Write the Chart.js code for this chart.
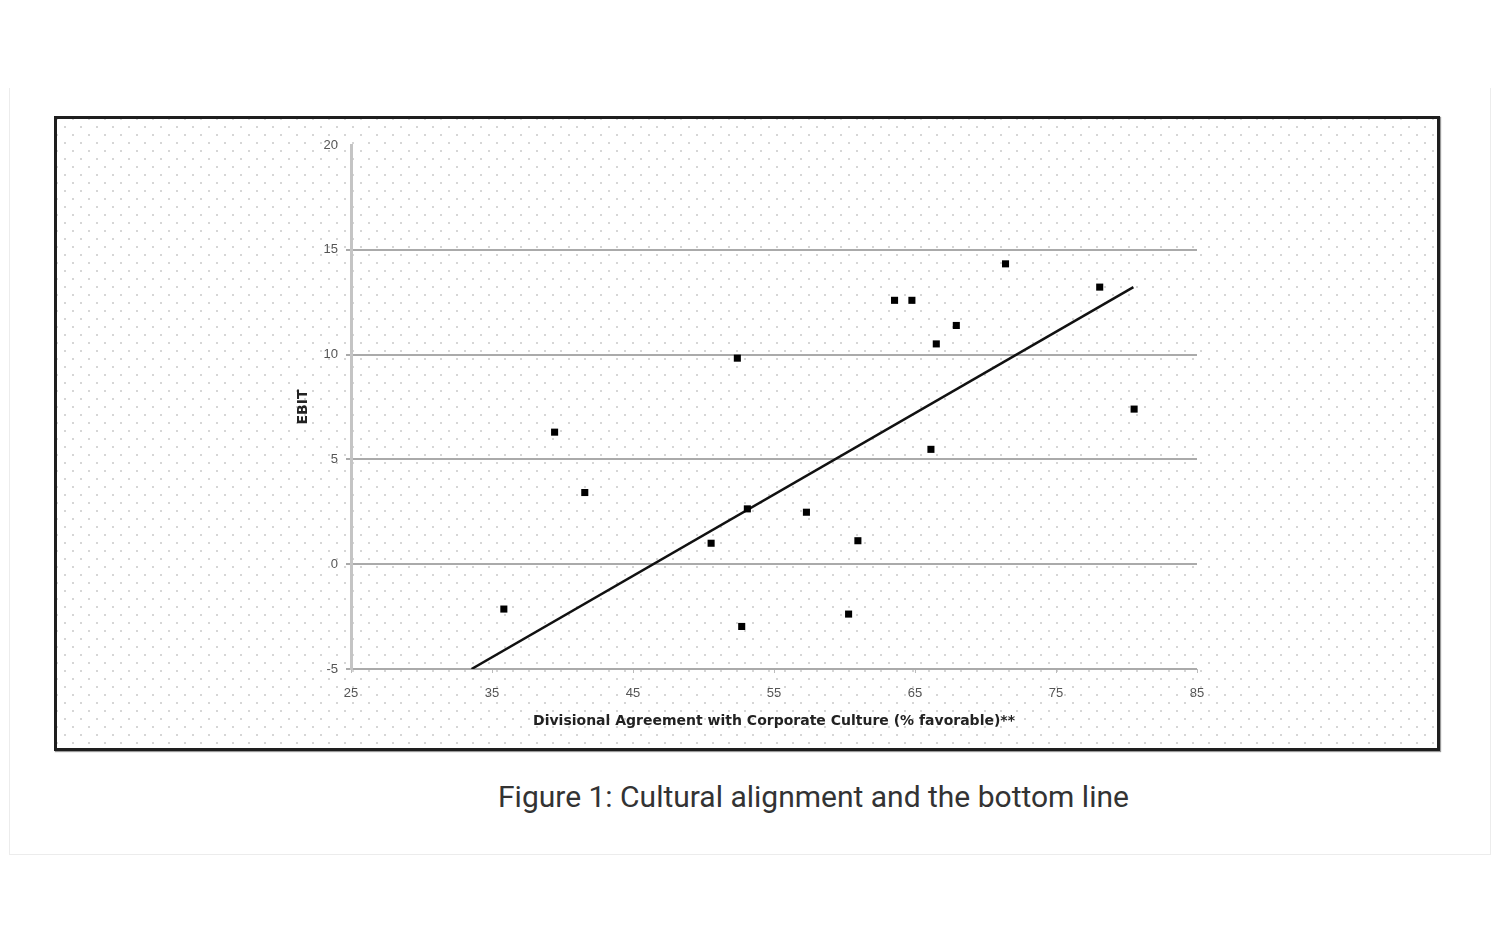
<!DOCTYPE html>
<html>
<head>
<meta charset="utf-8">
<script src="https://cdn.jsdelivr.net/npm/chart.js@4"></script>
<style>
    body { margin: 0; background: #fff; width: 1500px; height: 943px; position: relative; overflow: hidden; }
    #Card { position: absolute; left: 9px; top: 88px; width: 1480px; height: 766px;
            border-left: 1px solid #ececec; border-right: 1px solid #ececec; border-bottom: 1px solid #ececec; }
    #Frame { position: absolute; left: 54px; top: 116px; width: 1380px; height: 629px;
             border: 3px solid #1e1e1e; box-shadow: 1px 1px 1px #999;
             background-color: #fff;
             background-image: radial-gradient(circle, #d6d6d6 0.9px, rgba(255,255,255,0) 1.3px),
                               radial-gradient(circle, #d6d6d6 0.9px, rgba(255,255,255,0) 1.3px);
             background-size: 16px 16px;
             background-position: 0 0, 8px 8px; }
    #CultureDiagram { position: absolute; left: 0; top: 0; width: 1380px; height: 629px; }
    #Caption { position: absolute; left: 498px; top: 779px; font-family: Roboto, sans-serif;
               font-size: 30px; line-height: 36px; color: #333; white-space: nowrap; }
</style>
</head>
<body>
<div id="Card"></div>
<div id="Frame">
    <div id="CultureDiagram"><canvas></canvas></div>
</div>
<div id="Caption">Figure 1: Cultural alignment and the bottom line</div>

<script>
// divisions: agreement with culture (% favorable) and EBIT
var agreement = [35.84, 39.44, 41.58, 50.54, 52.40, 52.71, 53.11, 57.30, 60.29,
                 60.95, 63.55, 64.78, 66.13, 66.51, 67.93, 71.42, 78.10, 80.54];
var ebit = [-2.14, 6.30, 3.42, 1.00, 9.83, -2.97, 2.64, 2.48, -2.38,
            1.12, 12.59, 12.59, 5.48, 10.51, 11.39, 14.33, 13.22, 7.40];

// end points of the fitted line
var trendAgreement = [33.55, 80.49];
var trendEbit = [-5.0, 13.22];

var axXTitle = "Divisional Agreement with Corporate Culture (% favorable)**";
var axYTitle = "EBIT";
var xTicks = [25, 35, 45, 55, 65, 75, 85];
var yTicks = [-5, 0, 5, 10, 15, 20];


function toPoints(xs, ys) {
    var pts = new Array();
    for (var i = 0; i < xs.length; ++i) {
        pts.push({'x': xs[i], 'y': ys[i]});
    }
    return pts;
}


document.addEventListener('DOMContentLoaded', function () {

    var canvas = document.getElementById("CultureDiagram").getElementsByTagName("canvas")[0];
    var tickFont = {family: "'Liberation Sans', Arial, sans-serif", size: 13};
    var titleFont = {family: "'DejaVu Sans', sans-serif", size: 14, weight: 'bold'};

    new Chart(canvas, {
        data: {
            datasets: [
                {
                    type: "scatter",
                    label: "Divisions",
                    data: toPoints(agreement, ebit),
                    pointStyle: 'rect',
                    radius: 5,
                    backgroundColor: "#000",
                    borderColor: "#000",
                    borderWidth: 0,
                },
                {
                    type: "line",
                    label: "Trend",
                    data: toPoints(trendAgreement, trendEbit),
                    borderColor: "#111",
                    borderWidth: 2.5,
                    radius: 0,
                    fill: false,
                }
            ]
        },
        options: {
            responsive: true,
            maintainAspectRatio: false,
            animation: false,
            layout: {
                padding: {left: 224, right: 240, top: 26, bottom: 9}
            },
            scales: {
                x: {
                    type: 'linear',
                    min: xTicks[0],
                    max: xTicks[xTicks.length - 1],
                    afterBuildTicks: function (scale) {
                        scale.ticks = xTicks.map(function (v) { return {value: v}; });
                    },
                    afterFit: function (scale) { scale.height = 70; },
                    grid: {
                        drawOnChartArea: false,
                        color: "#bbb",
                        tickLength: 4,
                        lineWidth: 1
                    },
                    border: { display: false },
                    ticks: { font: tickFont, color: "#555", padding: 13, maxRotation: 0 },
                    title: {
                        display: true,
                        text: axXTitle,
                        font: titleFont,
                        color: "#222",
                        padding: {top: 0, bottom: 9}
                    }
                },
                y: {
                    type: 'linear',
                    min: yTicks[0],
                    max: yTicks[yTicks.length - 1],
                    afterBuildTicks: function (scale) {
                        scale.ticks = yTicks.map(function (v) { return {value: v}; });
                    },
                    afterFit: function (scale) { scale.width = 70; },
                    grid: {
                        color: function (ctx) {
                            // no line along the top value
                            return (ctx.tick && ctx.tick.value == 20) ? "rgba(0,0,0,0)" : "#aaa";
                        },
                        lineWidth: 2,
                        tickLength: 5
                    },
                    border: { display: true, color: "#c4c4c4", width: 3 },
                    ticks: { font: tickFont, color: "#555", padding: 8 },
                    title: {
                        display: true,
                        text: axYTitle,
                        font: titleFont,
                        color: "#222",
                        padding: {top: 14, bottom: 0}
                    }
                }
            },
            plugins: {
                legend: { display: false },
                tooltip: { enabled: false }
            }
        }
    });
})
</script>
</body>
</html>
